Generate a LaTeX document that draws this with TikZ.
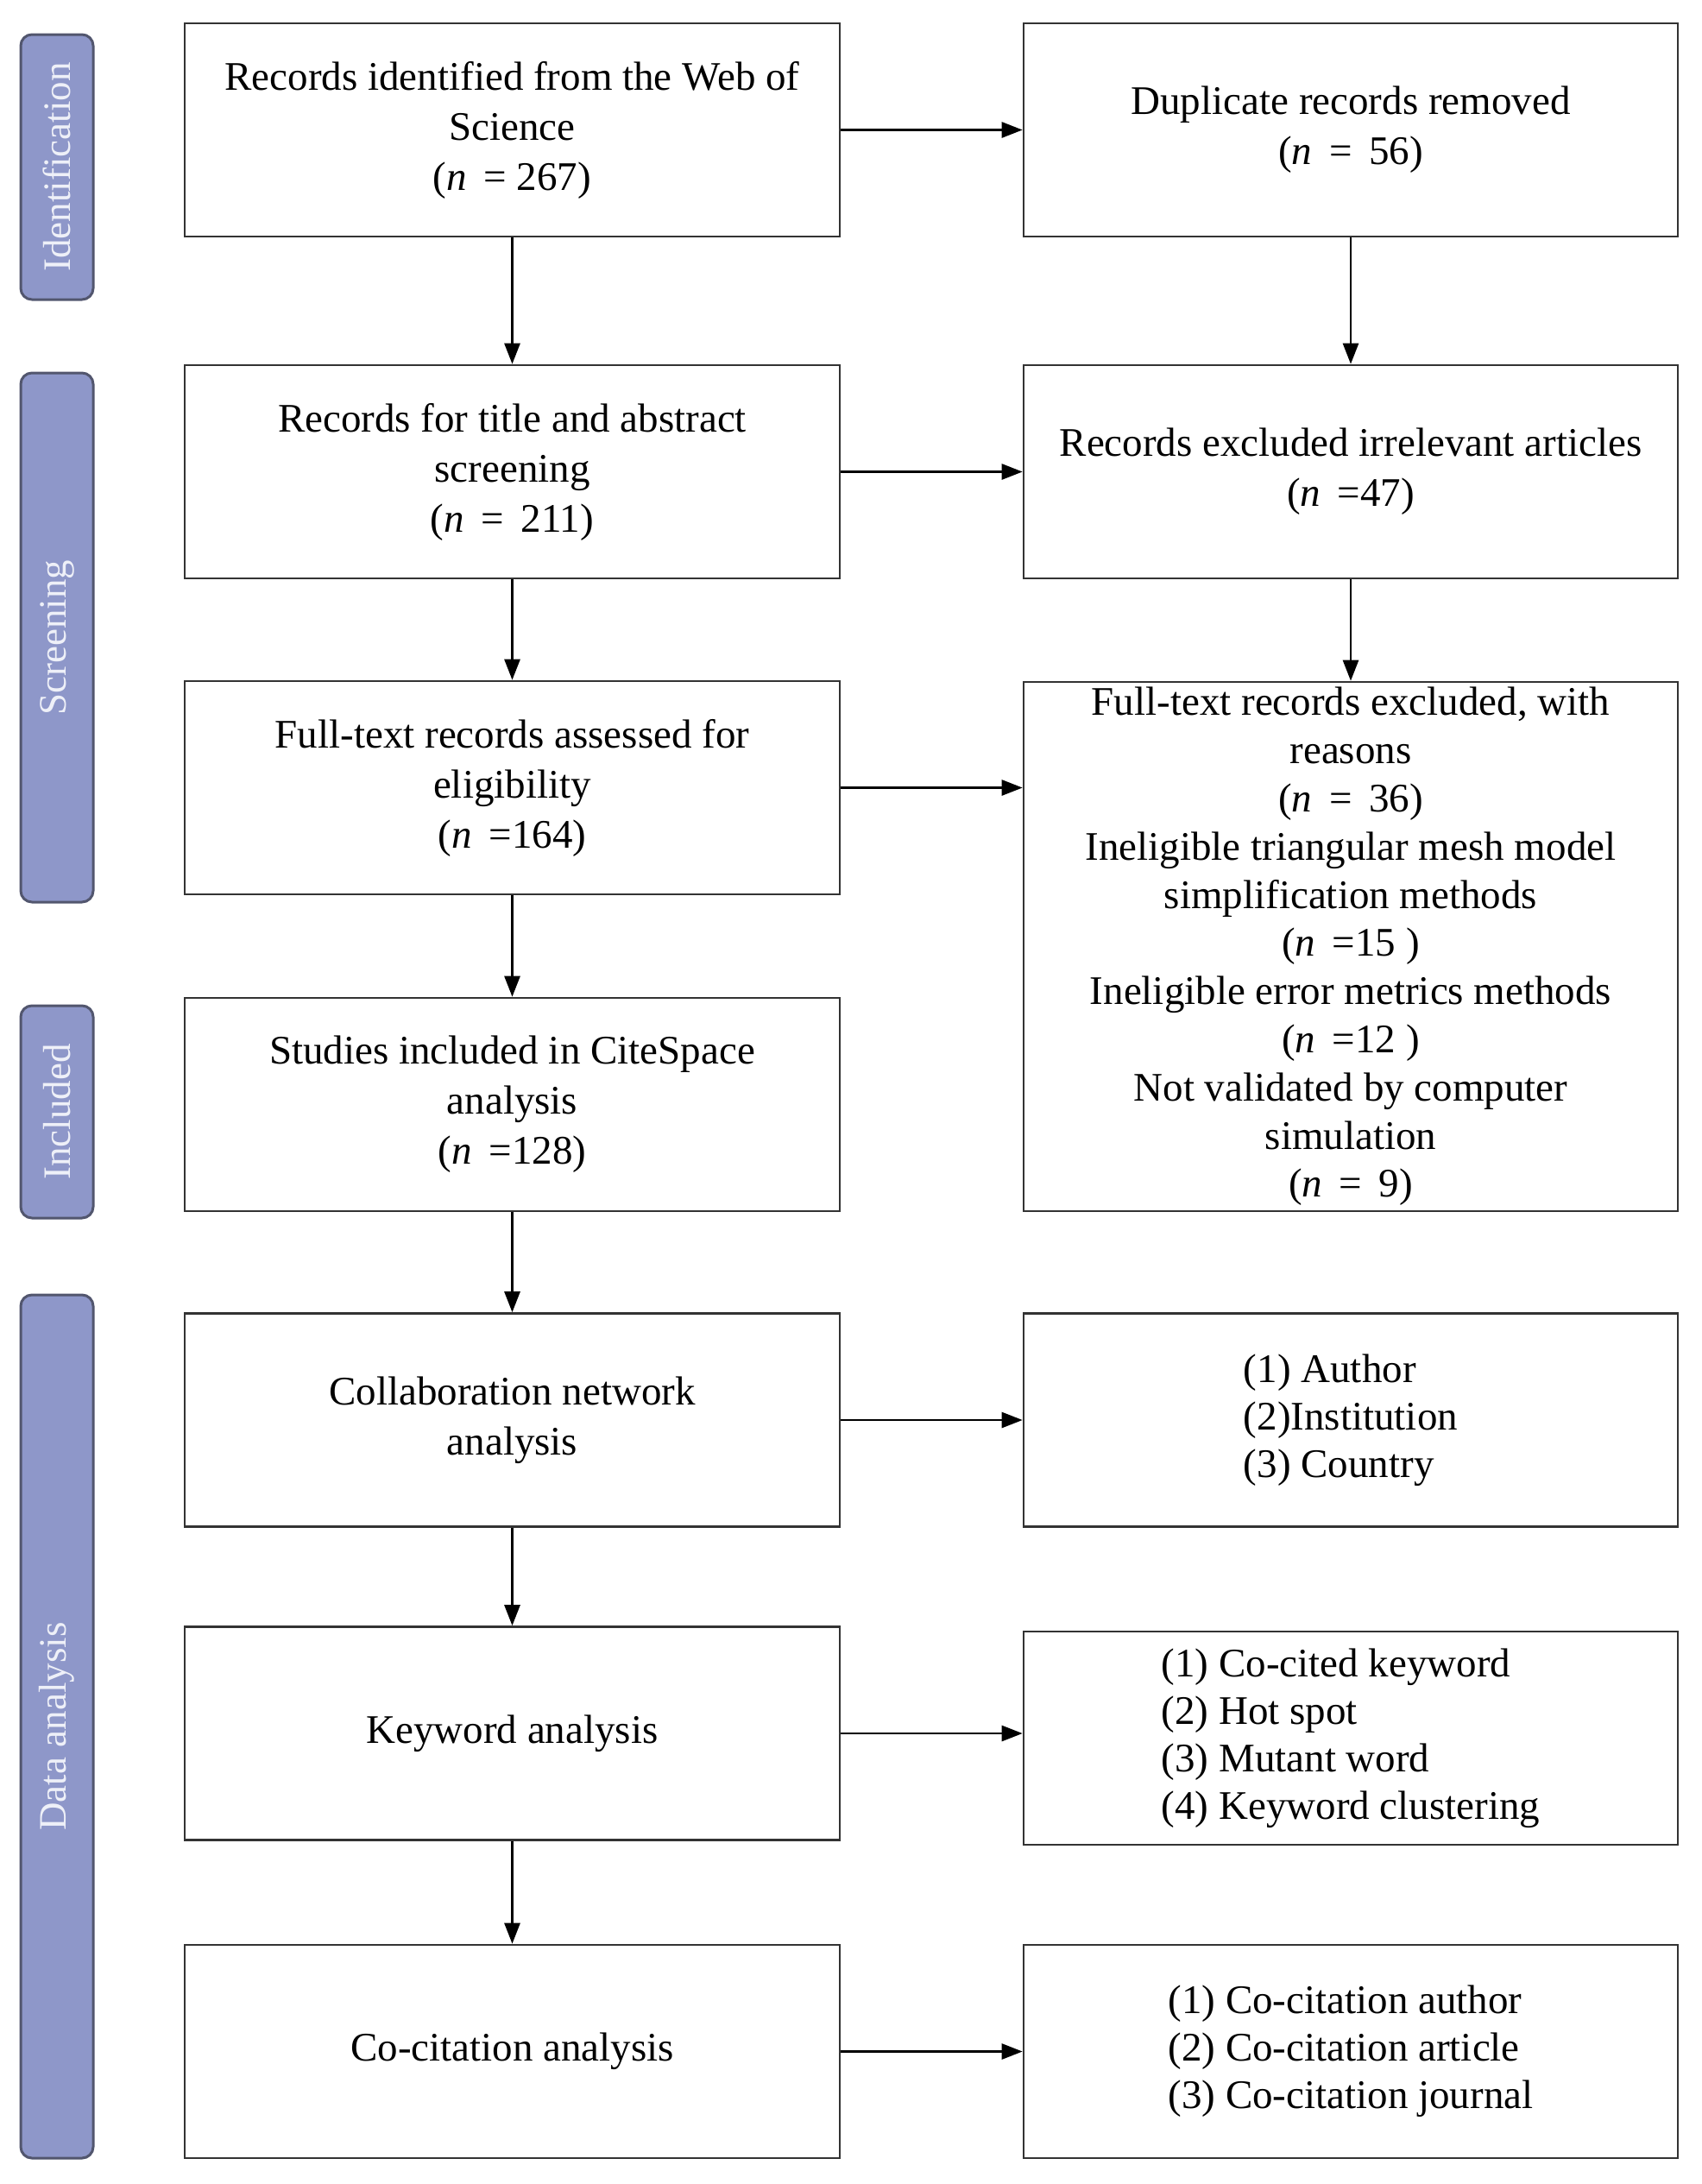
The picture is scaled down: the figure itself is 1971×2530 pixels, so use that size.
\documentclass[tikz,border=0pt]{standalone}
\usepackage{fontspec}
\setmainfont{Liberation Serif}
\usetikzlibrary{arrows.meta}
\definecolor{phasefill}{HTML}{8E97C9}
\definecolor{phasedraw}{HTML}{52566E}
\definecolor{phasetext}{HTML}{EEF0F8}
\definecolor{boxdraw}{HTML}{333333}
\tikzset{
  box/.style={draw=boxdraw, line width=2.6pt, minimum height=247pt, inner sep=0pt,
    align=center, font=\fontsize{47}{58}\selectfont, fill=white},
  lbox/.style={box, minimum width=759pt},
  rbox/.style={box, minimum width=758pt},
  listbox/.style={rbox, align=left, font=\fontsize{47}{55}\selectfont},
  phase/.style={draw=phasedraw, fill=phasefill, line width=3pt, rounded corners=13pt,
    minimum height=84pt, inner sep=0pt, rotate=90, text=phasetext,
    font=\fontsize{45}{54}\selectfont},
  arr/.style={line width=2.6pt, -{Triangle[length=24pt,width=18pt]}}
}
\begin{document}
\begin{tikzpicture}[x=1pt,y=-1pt]
\useasboundingbox (0,0) rectangle (1971,2530);
% phase labels
\node[phase, minimum width=307pt] (pid) at (66,193.5) {Identification};
\node[phase, minimum width=613pt] (psc) at (66,738.5) {Screening};
\node[phase, minimum width=246pt] (pin) at (66,1288) {Included};
\node[phase, minimum width=1000pt] (pda) at (66,2000) {Data analysis};
% left column
\node[lbox] (L1) at (593.5,150.5) {Records identified from the Web of\\Science\\(\textit{n} \,= 267)};
\node[lbox] (L2) at (593.5,546.5) {Records for title and abstract\\screening\\(\textit{n} \,= \,211)};
\node[lbox] (L3) at (593.5,912.5) {Full-text records assessed for\\eligibility\\(\textit{n} \,=164)};
\node[lbox] (L4) at (593.5,1279.5) {Studies included in CiteSpace\\analysis\\(\textit{n} \,=128)};
\node[lbox] (L5) at (593.5,1645) {Collaboration network\\analysis};
\node[lbox] (L6) at (593.5,2008) {Keyword analysis};
\node[lbox] (L7) at (593.5,2376.5) {Co-citation analysis};
% right column
\node[rbox] (R1) at (1565,150.5) {Duplicate records removed\\(\textit{n} \,= \,56)};
\node[rbox] (R2) at (1565,546.5) {Records excluded irrelevant articles\\(\textit{n} \,=47)};
\node[rbox, minimum height=613pt, font=\fontsize{47}{55.8}\selectfont] (R3) at (1565,1096.5)
  {Full-text records excluded, with\\reasons\\(\textit{n} \,= \,36)\\Ineligible triangular mesh model\\simplification methods\\(\textit{n} \,=15 )\\Ineligible error metrics methods\\(\textit{n} \,=12 )\\Not validated by computer\\simulation\\(\textit{n} \,= \,9)};
\node[listbox] (R5) at (1565,1645) {(1) Author\\(2)Institution\\(3) Country};
\node[listbox] (R6) at (1565,2013.5) {(1) Co-cited keyword\\(2) Hot spot\\(3) Mutant word\\(4) Keyword clustering};
\node[listbox] (R7) at (1565,2376.5) {(1) Co-citation author\\(2) Co-citation article\\(3) Co-citation journal};
% vertical arrows
\draw[arr] (L1.south) -- (L2.north);
\draw[arr] (L2.south) -- (L3.north);
\draw[arr] (L3.south) -- (L4.north);
\draw[arr] (L4.south) -- (L5.north);
\draw[arr] (L5.south) -- (L6.north);
\draw[arr] (L6.south) -- (L7.north);
\draw[arr] (R1.south) -- (R2.north);
\draw[arr] (R2.south) -- (R3.north);
% horizontal arrows
\draw[arr] (L1.east) -- (L1.east -| R1.west);
\draw[arr] (L2.east) -- (L2.east -| R2.west);
\draw[arr] (L3.east) -- (L3.east -| R3.west);
\draw[arr] (L5.east) -- (L5.east -| R5.west);
\draw[arr] (L6.east) -- (L6.east -| R6.west);
\draw[arr] (L7.east) -- (L7.east -| R7.west);
\end{tikzpicture}
\end{document}
